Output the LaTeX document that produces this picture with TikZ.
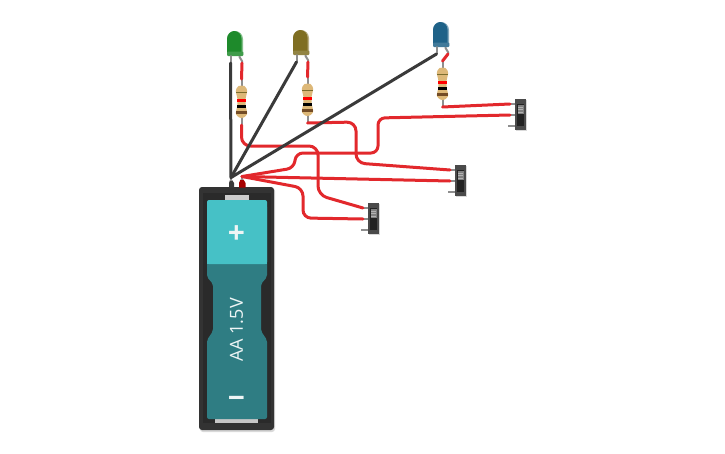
\documentclass[tikz,border=0pt]{standalone}
\usepackage{fontspec}
\setmainfont{Open Sans}
\definecolor{wred}{HTML}{E2282C}
\definecolor{wblk}{HTML}{3A3A3A}
\definecolor{lead}{HTML}{8E8E8E}
\definecolor{batt}{HTML}{333333}
\definecolor{battin}{HTML}{2A2A2A}
\definecolor{tealL}{HTML}{46C1C6}
\definecolor{tealD}{HTML}{2F7D83}
\definecolor{resb}{HTML}{DDB878}
\definecolor{swb}{HTML}{4A4A4A}
\definecolor{swi}{HTML}{222222}
\definecolor{ledg}{HTML}{1E8A2B}
\definecolor{ledo}{HTML}{7F6E22}
\definecolor{ledb}{HTML}{1F6288}
\tikzset{
  x=1pt,y=-1pt,
  redwire/.style={draw=wred,line width=3pt,rounded corners=9pt,line cap=round},
  blkwire/.style={draw=wblk,line width=3pt,line cap=round},
  pinline/.style={draw=lead,line width=2pt},
  battlabel/.style={text=white!92!tealD,inner sep=0pt},
  ledpic/.pic={
    \fill[#1!55!white] (0,24) -- (0,8) arc[start angle=180,end angle=360,x radius=8,y radius=8] -- (16,24) -- cycle;
    \fill[#1] (0,24) -- (0,8) arc[start angle=180,end angle=360,x radius=7.3,y radius=8] -- (14.6,24) -- cycle;
    \fill[#1!85!white,rounded corners=1pt] (0,20.5) rectangle (16.3,25);
    \draw[pinline,line cap=round] (3.5,25) -- (3.5,32);
    \draw[pinline,line join=round] (12.5,25) -- (12.5,26) -- (15,30) -- (15,32);
    \coordinate (-a) at (3.5,32);
    \coordinate (-c) at (15,32);
  },
  respic/.pic={
    \draw[pinline] (0,-7) -- (0,39);
    \fill[resb] (-3,0) .. controls (-1,-0.5) and (1,-0.5) .. (3,0)
      .. controls (4.5,1.5) and (5.7,3) .. (5.7,5) .. controls (5.7,8) and (4.2,10) .. (4.2,12)
      -- (4.2,20) .. controls (4.2,22) and (5.7,24) .. (5.7,27)
      .. controls (5.7,29) and (3,32) .. (0,32)
      .. controls (-3,32) and (-5.7,29) .. (-5.7,27)
      .. controls (-5.7,24) and (-4.2,22) .. (-4.2,20) -- (-4.2,12)
      .. controls (-4.2,10) and (-5.7,8) .. (-5.7,5)
      .. controls (-5.7,3) and (-4.5,1.5) .. (-3,0) -- cycle;
    \fill[black!45!resb!70!olive] (-5.5,5.6) rectangle (5.5,6.7);
    \fill[red] (-4.2,12.5) rectangle (4.2,15.5);
    \fill[black] (-4.2,19) rectangle (4.2,22);
    \fill[brown!60!black] (-5.5,25) rectangle (5.5,27.8);
    \coordinate (-t) at (0,-7);
    \coordinate (-b) at (0,39);
  },
  swpic/.pic={
    \fill[black!15] (0.8,0.8) rectangle (12,32);
    \draw[pinline] (-7,5) -- (0,5);
    \draw[pinline] (-7,16) -- (0,16);
    \draw[pinline] (-7,27) -- (0,27);
    \fill[swb] (0,0) rectangle (11,31);
    \fill[swi] (2,5) rectangle (9,27);
    \fill[black!50] (3,6) rectangle (8.5,14.5);
    \foreach \v in {7.5,10,12.5}{\fill[black!30] (3.2,\v) rectangle (8.3,\v+1);}
    \coordinate (-p1) at (-5,5);
    \coordinate (-p2) at (-5,16);
    \coordinate (-p3) at (-5,27);
  }
}
\begin{document}
\begin{tikzpicture}
\useasboundingbox (0,0) rectangle (725,453);
\fill[white] (0,0) rectangle (725,453);

% battery holder
\fill[black!15,rounded corners=3pt] (200,188) rectangle (275,432);
\fill[batt,rounded corners=3pt] (199,187) rectangle (274,430);
\fill[battin] (203,193) rectangle (270.5,423);
\fill[black!20] (225,195) rectangle (249,201);
\fill[black!22] (215,418) rectangle (258,422.5);
\fill[tealD,rounded corners=2pt] (207,205) -- (207,277) -- (213,284) -- (213,331) -- (207,340) -- (207,419) -- (267,419) -- (267,340) -- (261,331) -- (261,284) -- (267,277) -- (267,205) -- cycle;
\fill[tealL,rounded corners=2pt] (207,264) -- (207,200) -- (267,200) -- (267,264) -- cycle;
\fill[tealL] (207,258) rectangle (267,264);
\node[battlabel,font=\bfseries\fontsize{30}{30}\selectfont] (plus) at (236.5,234.5) {+};
\node[battlabel,rotate=90,font=\fontsize{18}{18}\selectfont] (aa) at (236.5,330) {AA 1.5V};
\node[battlabel,font=\bfseries\fontsize{30}{30}\selectfont] (minus) at (236.5,402) {−};

% battery terminals
\fill[wblk] (229,187.5) -- (229,183) -- (230,180) -- (232,180) -- (234,183) -- (234,187.5) -- cycle;
\fill[red!65!black] (239,187.5) -- (239,183) -- (240.5,179.5) -- (243.5,179.5) -- (245.5,183) -- (245.5,187.5) -- cycle;
\coordinate (bneg) at (231,177.5);
\coordinate (bpos) at (242,176.5);
\draw[pinline,line width=1.6pt] (bneg) -- (231,181);
\draw[pinline,line width=1.6pt] (bpos) -- (242,180);

% LEDs, resistors, switches
\pic (l1) at (227,31) {ledpic=ledg};
\pic (l2) at (293,30) {ledpic=ledo};
\pic (l3) at (433,22) {ledpic=ledb};
\pic (r1) at (241.5,86) {respic};
\pic (r2) at (307.5,84) {respic};
\pic (r3) at (442.5,68) {respic};
\pic (s1) at (515,99) {swpic};
\pic (s2) at (455,165) {swpic};
\pic (s3) at (368,203) {swpic};

% red wires
\draw[redwire] (l1-c) -- (r1-t);
\draw[redwire] (l2-c) -- (r2-t);
\draw[redwire] (l3-c) -- (r3-t);
\draw[redwire] (r1-b) -- (241.5,146) -- (318,146) -- (318,195) -- (s3-p1);
\draw[redwire] (r2-b) -- (356,122) -- (356,163) -- (s2-p1);
\draw[redwire] (r3-b) -- (s1-p1);
\draw[redwire,rounded corners=7pt] (bpos) -- (294,168) -- (296,153) -- (378,153) -- (378,118) -- (s1-p2);
\draw[redwire] (bpos) -- (s2-p2);
\draw[redwire,rounded corners=8pt] (bpos) -- (303,188) -- (303,218) -- (s3-p2);

% black wires
\draw[blkwire] (l1-a) -- (bneg);
\draw[blkwire] (l2-a) -- (bneg);
\draw[blkwire] (l3-a) -- (bneg);
\end{tikzpicture}
\end{document}
